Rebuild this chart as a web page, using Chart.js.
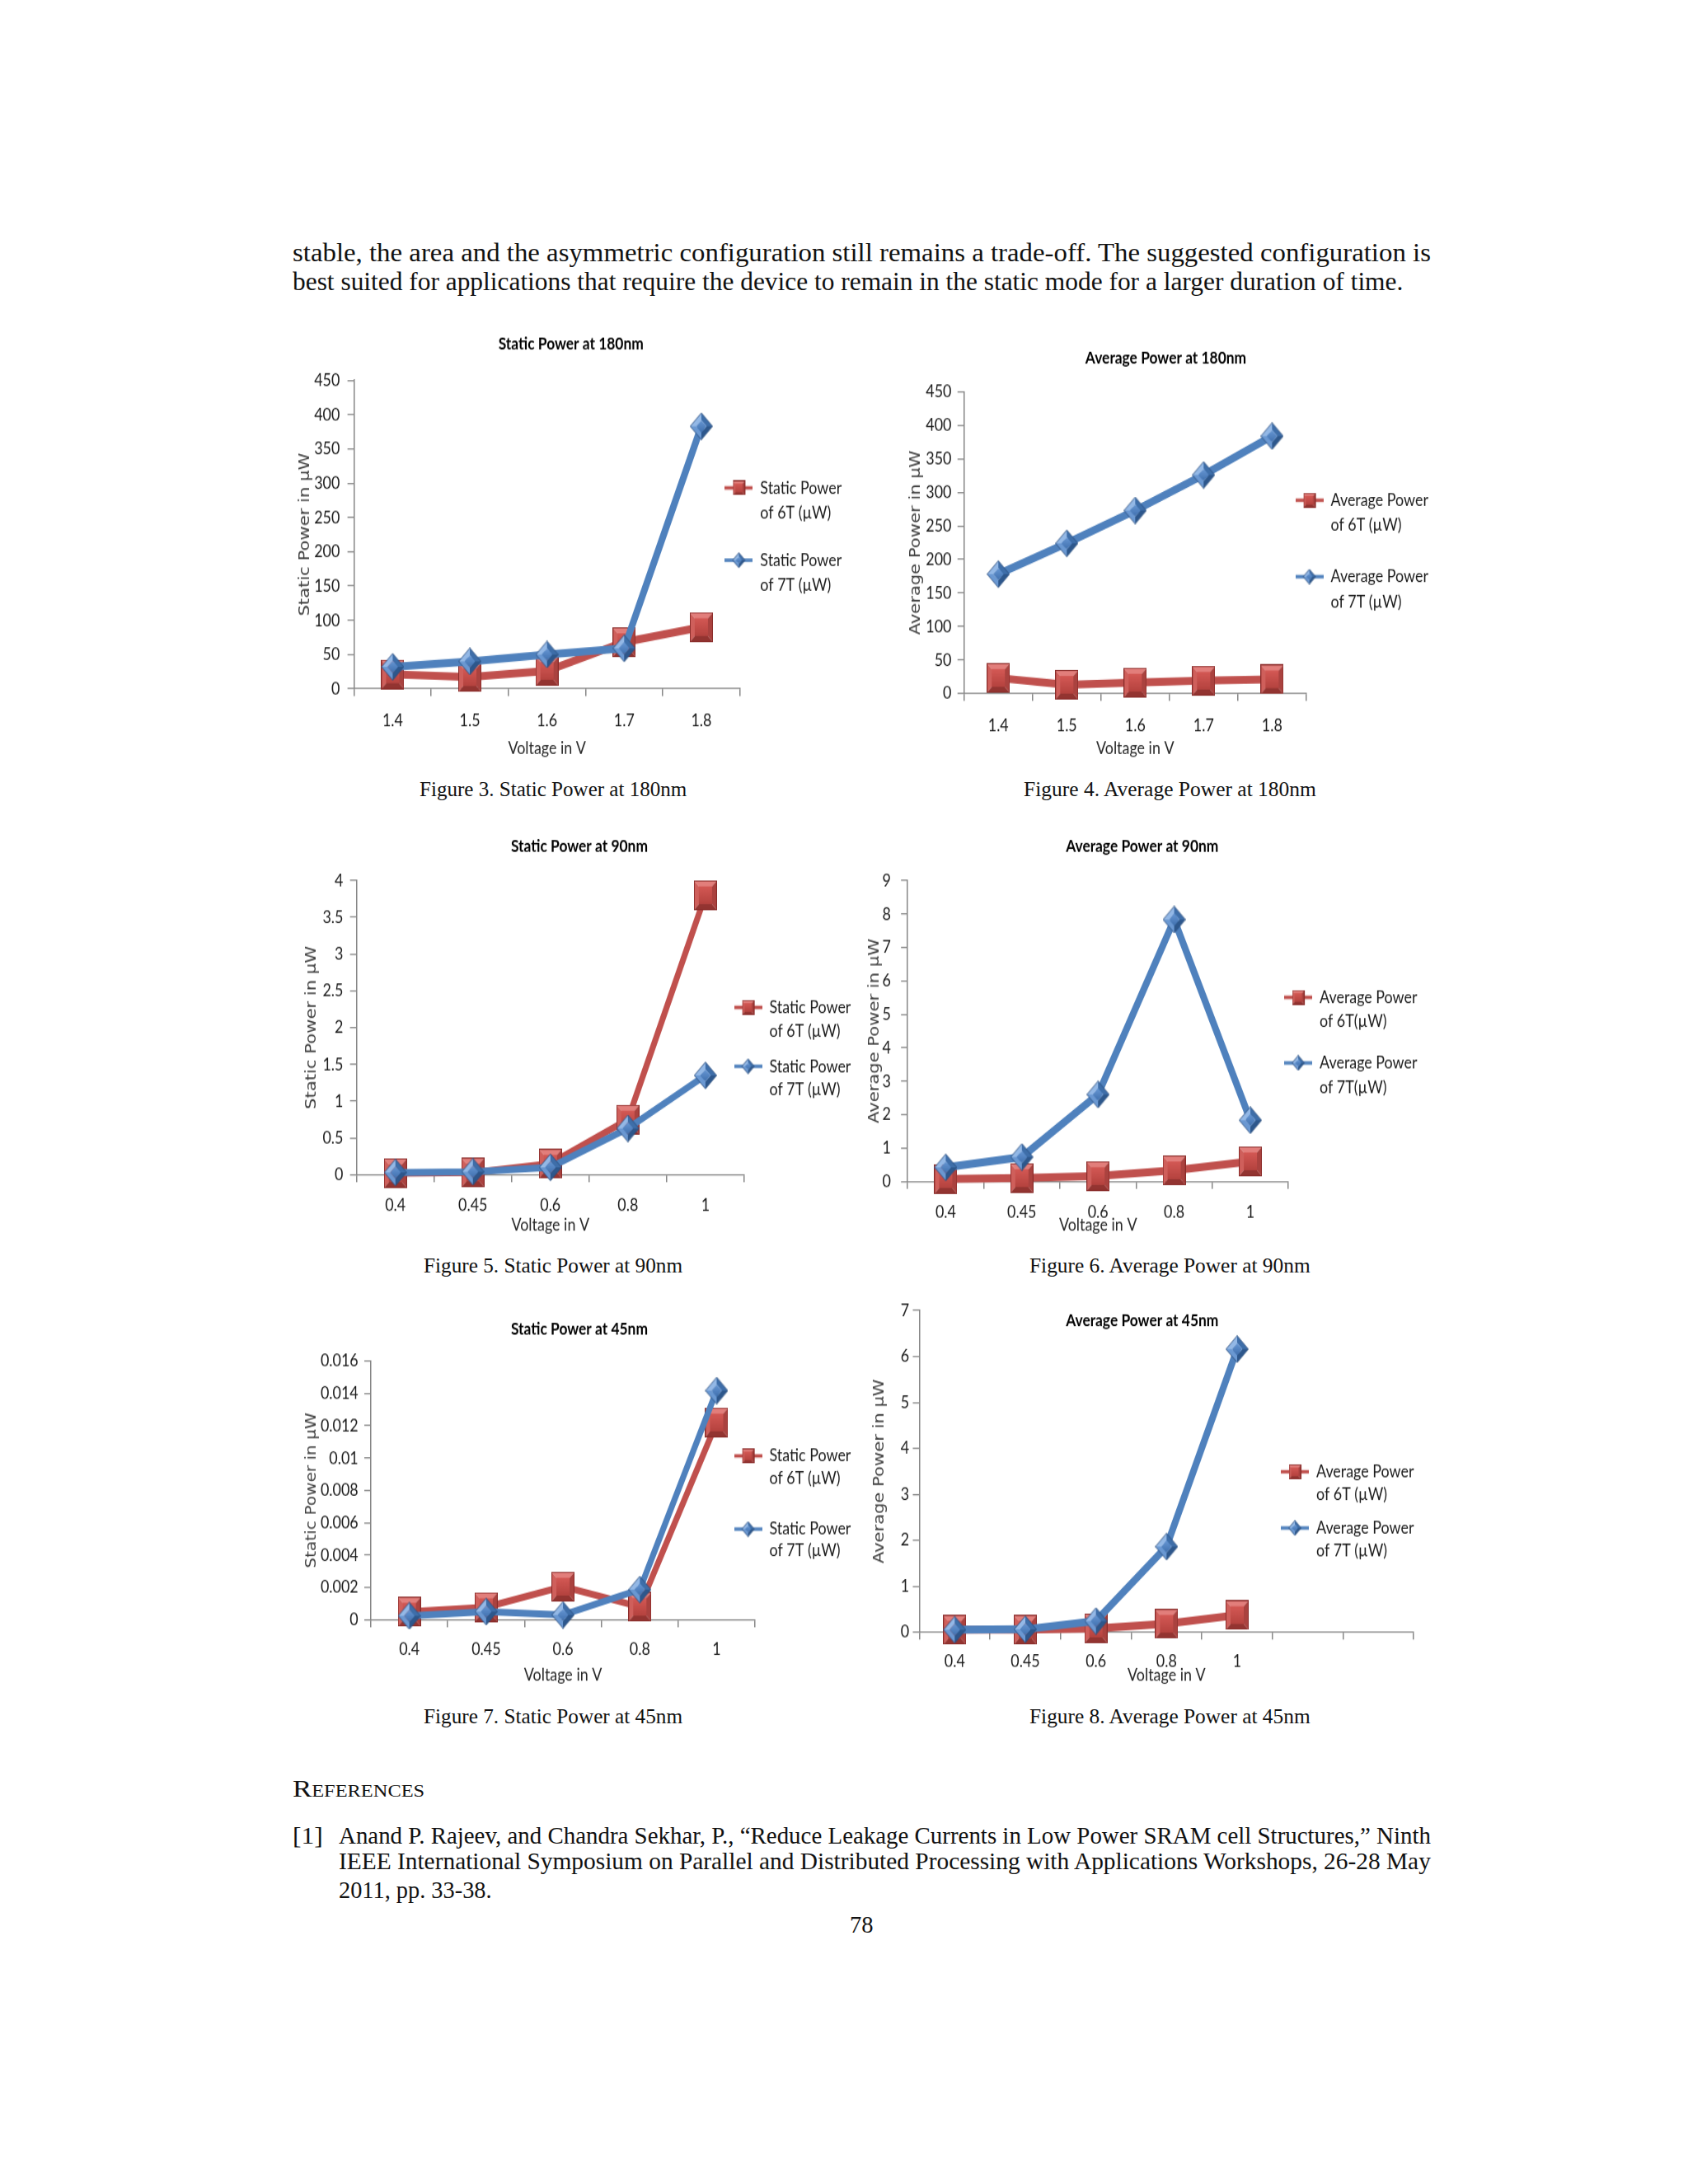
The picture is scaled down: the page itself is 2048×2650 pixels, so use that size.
<!DOCTYPE html>
<html><head><meta charset="utf-8">
<script src="https://cdn.jsdelivr.net/npm/chart.js@4.4.1/dist/chart.umd.min.js"></script>
<style>
html,body{margin:0;padding:0;background:#fff;}
#page{position:relative;width:2048px;height:2650px;background:#fff;overflow:hidden;}
.tx{position:absolute;white-space:nowrap;font-family:'Liberation Serif','Times New Roman',serif;color:#111;transform-origin:0 50%;}
canvas{position:absolute;}
</style></head><body><div id="page"></div>
<script>
// ---------------- data ----------------
const volt180 = ['1.4','1.5','1.6','1.7','1.8'];
const volt90  = ['0.4','0.45','0.6','0.8','1'];
const volt45  = ['0.4','0.45','0.6','0.8','1','',''];

const static180_6T = [21, 17, 26, 68, 90];
const static180_7T = [32, 40, 50, 59, 383];
const avg180_6T    = [23, 13, 16, 19, 21];
const avg180_7T    = [178, 224, 273, 326, 384];
const static90_6T  = [0.02, 0.03, 0.15, 0.75, 3.8];
const static90_7T  = [0.03, 0.04, 0.10, 0.63, 1.35];
const avg90_6T     = [0.07, 0.10, 0.16, 0.33, 0.60];
const avg90_7T     = [0.42, 0.73, 2.60, 7.83, 1.83];
const static45_6T  = [0.0005, 0.00078, 0.00205, 0.0008, 0.0122];
const static45_7T  = [0.00024, 0.0005, 0.0003, 0.00187, 0.01417];
const avg45_6T     = [0.05, 0.05, 0.08, 0.18, 0.37];
const avg45_7T     = [0.05, 0.06, 0.24, 1.86, 6.16];

const names_static = [['Static Power','of 6T (µW)'], ['Static Power','of 7T (µW)']];
const names_avg    = [['Average Power','of 6T (µW)'], ['Average Power','of 7T (µW)']];
const names_avg90  = [['Average Power','of 6T(µW)'], ['Average Power','of 7T(µW)']];

// ---------------- styles ----------------
const S = 1.0199;           // layout unit -> page px
const SANS = "Lato,'Liberation Sans',Arial,sans-serif";
const RED = '#C0504D', BLUE = '#4F81BD', AX = '#868686';
const page = document.getElementById('page');

function poly(g, pts, fill){ g.beginPath(); g.moveTo(pts[0][0],pts[0][1]); for(let k=1;k<pts.length;k++) g.lineTo(pts[k][0],pts[k][1]); g.closePath(); g.fillStyle=fill; g.fill(); }
function bevelSquare(w,h,c){
  const cv=document.createElement('canvas'); cv.width=w; cv.height=h; const g=cv.getContext('2d');
  const i=Math.round(Math.min(w,h)*0.22);
  poly(g,[[0,0],[w,0],[w-i,i],[i,i]],c.top);
  poly(g,[[0,0],[i,i],[i,h-i],[0,h]],c.left);
  poly(g,[[w,0],[w,h],[w-i,h-i],[w-i,i]],c.right);
  poly(g,[[0,h],[i,h-i],[w-i,h-i],[w,h]],c.bottom);
  const gr=g.createLinearGradient(0,i,0,h-i); gr.addColorStop(0,c.c1); gr.addColorStop(1,c.c2);
  g.fillStyle=gr; g.fillRect(i,i,w-2*i,h-2*i);
  g.strokeStyle=c.edge; g.lineWidth=1; g.strokeRect(0.5,0.5,w-1,h-1);
  return cv;
}
function bevelDiamond(w,h,c){
  const cv=document.createElement('canvas'); cv.width=w; cv.height=h; const g=cv.getContext('2d');
  const cx=w/2, cy=h/2, s=0.45;
  const T=[cx,0.5],R=[w-0.5,cy],B=[cx,h-0.5],L=[0.5,cy];
  const t=[cx,cy-cy*s],r=[cx+cx*s,cy],b=[cx,cy+cy*s],l=[cx-cx*s,cy];
  poly(g,[T,R,r,t],c.right); poly(g,[R,B,b,r],c.bottom); poly(g,[B,L,l,b],c.left); poly(g,[L,T,t,l],c.top);
  const gr=g.createLinearGradient(0,t[1],0,b[1]); gr.addColorStop(0,c.c1); gr.addColorStop(1,c.c2);
  poly(g,[t,r,b,l],gr);
  g.beginPath(); g.moveTo(T[0],T[1]); g.lineTo(R[0],R[1]); g.lineTo(B[0],B[1]); g.lineTo(L[0],L[1]); g.closePath();
  g.strokeStyle=c.edge; g.lineWidth=1; g.stroke();
  return cv;
}
const redC  = {top:'#E27E7B',left:'#CF5F5B',right:'#AA423F',bottom:'#933431',c1:'#D45955',c2:'#B5433F',edge:'#8A2C2A'};
const blueC = {top:'#93B8E6',left:'#6A98D2',right:'#3E6EA9',bottom:'#2D578C',c1:'#6797D4',c2:'#4070AE',edge:'#2B4E7E'};
const sqBig = bevelSquare(28,30,redC), diaBig = bevelDiamond(28,28,blueC);
const sqSm = bevelSquare(15,15,redC), diaSm = bevelDiamond(16,16,blueC);
function glyph(marker,color,w){
  const cv=document.createElement('canvas'); cv.width=w; cv.height=Math.max(marker.height,6); const g=cv.getContext('2d');
  g.strokeStyle=color; g.lineWidth=3.5; g.beginPath(); g.moveTo(0,cv.height/2); g.lineTo(w,cv.height/2); g.stroke();
  g.drawImage(marker,(w-marker.width)/2,(cv.height-marker.height)/2);
  return cv;
}
const GW = 34;
const glyphRed = glyph(sqSm,RED,GW), glyphBlue = glyph(diaSm,BLUE,GW);

// plugin moving title/legend to their spots (canvas coords)
const placer = {
  id:'placer',
  afterLayout(chart,args,o){
    const T=chart.titleBlock;
    if(T && o.title){
      const lh=Chart.helpers.toFont(T.options.font).lineHeight;
      const w=T.right-T.left, h=T.bottom-T.top;
      T.left=o.title[0]-w/2; T.right=T.left+w; T.top=o.title[1]-lh/2; T.bottom=T.top+h;
    }
    const L=chart.legend;
    if(L && o.legend){
      const lo=L.options.labels; const fs=Chart.helpers.toFont(lo.font).size;
      const w=L.width;
      L.left=o.legend[0]-lo.padding; L.right=L.left+w;
      L.top=o.legend[1]-fs/2-lo.padding; L.bottom=L.top+2000;
    }
  }
};
const fmt = v => String(parseFloat(Number(v).toFixed(6)));

function makeChart(s){
  const k=s.k;
  const x0=s.x0*S, y0=s.y0*S;
  const W=Math.round((s.x1-s.x0)*S), cH=Math.round((s.y1-s.y0)*S/k);
  const cx = v => v*S - x0, cy = v => (v*S - y0)/k;   // page layout -> canvas coords
  const cv=document.createElement('canvas');
  cv.width=W; cv.height=cH;
  cv.style.left=x0+'px'; cv.style.top=y0+'px'; cv.style.width=W+'px'; cv.style.height=(cH*k)+'px';
  page.appendChild(cv);
  const l=cx(s.area[0]), t=cy(s.area[1]), r=cx(s.area[2]), b=cy(s.area[3]);
  const FS=17.9, TFS=17.4;
  const titleLH=TFS*1.2, tickLH=FS*1.2, ytLH=s.yTitleSize*1.2;
  const xTick=7.5, yTick=8;
  const legLH=s.legLH*S/k, legPad=s.legPad*S/k;
  new Chart(cv,{
    type:'line',
    data:{labels:s.labels,datasets:[
      {label:'6T',legendLines:s.names[0],glyph:glyphRed,data:s.red,borderColor:RED,backgroundColor:RED,borderWidth:s.lw,
       pointStyle:sqBig,pointRadius:12,pointHoverRadius:12,pointBorderWidth:0,tension:0,order:2,clip:false},
      {label:'7T',legendLines:s.names[1],glyph:glyphBlue,data:s.blue,borderColor:BLUE,backgroundColor:BLUE,borderWidth:s.lw,
       pointStyle:diaBig,pointRadius:12,pointHoverRadius:12,pointBorderWidth:0,tension:0,order:1,clip:false}
    ]},
    options:{
      responsive:false,animation:false,
      layout:{padding:{left:0,right:W-r,top:t-titleLH,bottom:0}},
      plugins:{
        title:{display:true,text:s.title,color:'#000',padding:0,font:{family:SANS,size:TFS,weight:'bold',lineHeight:1.2}},
        legend:{display:true,position:'chartArea',align:'start',
          labels:{usePointStyle:true,pointStyleWidth:GW,padding:legPad,color:'#1a1a1a',
            font:{family:SANS,size:FS,lineHeight:legLH/FS},
            generateLabels:ch=>ch.data.datasets.map((d,i)=>({text:d.legendLines,pointStyle:d.glyph,fillStyle:d.borderColor,strokeStyle:d.borderColor,lineWidth:0,hidden:false,datasetIndex:i,fontColor:'#1a1a1a'}))}},
        tooltip:{enabled:false},
        placer:{title:[cx(s.titlePos[0]),cy(s.titlePos[1])],legend:[cx(s.legPos[0]),cy(s.legPos[1])]}
      },
      scales:{
        x:{type:'category',offset:true,
          grid:{display:true,offset:true,drawOnChartArea:false,drawTicks:true,tickLength:xTick,color:AX,lineWidth:1.5},
          border:{display:true,color:AX,width:1.3},
          ticks:{font:{family:SANS,size:FS,lineHeight:1.2},color:'#1a1a1a',padding:cy(s.xLabelY)-b-xTick-tickLH/2,maxRotation:0,autoSkip:false},
          title:{display:true,text:'Voltage in V',color:'#262626',font:{family:SANS,size:FS,lineHeight:1.2},padding:{top:0,bottom:(cH-cy(s.xTitleY))-tickLH/2}},
          afterFit:sc=>{sc.height=cH-b;}
        },
        y:{min:s.yMin,max:s.yMax,
          grid:{display:true,drawOnChartArea:false,drawTicks:true,tickLength:yTick,color:AX,lineWidth:1.3},
          border:{display:true,color:AX,width:1.5},
          ticks:{stepSize:s.yStep,font:{family:SANS,size:FS,lineHeight:1.2},color:'#1a1a1a',padding:(l-cx(s.yLabelRight))-yTick,callback:fmt},
          title:{display:true,text:s.yTitle,color:'#404040',font:{family:"'DejaVu Sans',Verdana,sans-serif",size:s.yTitleSize,lineHeight:1.2},padding:{top:cx(s.yTitleX)-ytLH/2,bottom:0}},
          afterFit:sc=>{sc.width=l;}
        }
      }
    },
    plugins:[placer]
  });
}

const charts = [
  {k:1.2,x0:340,y0:380,x1:1030,y1:910,area:[421,452,880,819],title:'Static Power at 180nm',titlePos:[679,409],
   yTitle:'Static Power in µW',yTitleX:363,yTitleSize:17.6,xTitleY:890,xLabelY:857,yLabelRight:404,
   legPos:[862,580],legLH:30,legPad:26,yMin:0,yMax:450,yStep:50,labels:volt180,names:names_static,
   red:static180_6T,blue:static180_7T,lw:8},
  {k:1.2,x0:1060,y0:390,x1:1760,y1:910,area:[1147,466,1554,825],title:'Average Power at 180nm',titlePos:[1387,426],
   yTitle:'Average Power in µW',yTitleX:1090,yTitleSize:17.6,xTitleY:890,xLabelY:863,yLabelRight:1132,
   legPos:[1541,595],legLH:30,legPad:31,yMin:0,yMax:450,yStep:50,labels:volt180,names:names_avg,
   red:avg180_6T,blue:avg180_7T,lw:8},
  {k:1.2,x0:340,y0:980,x1:1030,y1:1480,area:[424,1047,885,1397],title:'Static Power at 90nm',titlePos:[689,1006],
   yTitle:'Static Power in µW',yTitleX:371,yTitleSize:17.6,xTitleY:1457,xLabelY:1433,yLabelRight:408,
   legPos:[873,1198],legLH:28,legPad:14,yMin:0,yMax:4,yStep:0.5,labels:volt90,names:names_static,
   red:static90_6T,blue:static90_7T,lw:7},
  {k:1.2,x0:1020,y0:980,x1:1760,y1:1480,area:[1080,1047,1533,1405],title:'Average Power at 90nm',titlePos:[1359,1006],
   yTitle:'Average Power in µW',yTitleX:1041,yTitleSize:17.6,xTitleY:1457,xLabelY:1442,yLabelRight:1060,
   legPos:[1528,1186],legLH:29,legPad:20,yMin:0,yMax:9,yStep:1,labels:volt90,names:names_avg90,
   red:avg90_6T,blue:avg90_7T,lw:8},
  {k:1.2,x0:340,y0:1550,x1:1030,y1:2010,area:[441,1619,898,1927],title:'Static Power at 45nm',titlePos:[689,1581],
   yTitle:'Static Power in µW',yTitleX:371,yTitleSize:16.8,xTitleY:1993,xLabelY:1962,yLabelRight:426,
   legPos:[873,1732],legLH:26,legPad:35,yMin:0,yMax:0.016,yStep:0.002,labels:volt90,names:names_static,
   red:static45_6T,blue:static45_7T,lw:7},
  {k:1.2,x0:1020,y0:1500,x1:1760,y1:2010,area:[1094,1559,1682,1942],title:'Average Power at 45nm',titlePos:[1359,1571],
   yTitle:'Average Power in µW',yTitleX:1047,yTitleSize:17.6,xTitleY:1993,xLabelY:1977,yLabelRight:1082,
   legPos:[1524,1751],legLH:27,legPad:13,yMin:0,yMax:7,yStep:1,labels:volt45,names:names_avg,
   red:avg45_6T,blue:avg45_7T,lw:8}
];

// ---------------- page text ----------------
const textLines = [
  ['stable, the area and the asymmetric configuration still remains a trade-off. The suggested configuration is',348,1702,301,30],
  ['best suited for applications that require the device to remain in the static mode for a larger duration of time.',348,1669,336,30],
  ['Figure 3. Static Power at 180nm',499,817,940,25],
  ['Figure 4. Average Power at 180nm',1218,1566,940,25],
  ['Figure 5. Static Power at 90nm',504,812,1506,25],
  ['Figure 6. Average Power at 90nm',1225,1559,1506,25],
  ['Figure 7. Static Power at 45nm',504,812,2043,25],
  ['Figure 8. Average Power at 45nm',1225,1559,2043,25],
  ['References',348,505,2129,28,'sc'],
  ['[1]',348,384,2184,29],
  ['Anand P. Rajeev, and Chandra Sekhar, P., \u201CReduce Leakage Currents in Low Power SRAM cell Structures,\u201D Ninth',403,1702,2184,29],
  ['IEEE International Symposium on Parallel and Distributed Processing with Applications Workshops, 26-28 May',403,1702,2215,29],
  ['2011, pp. 33-38.',403,585,2249,29],
  ['78',1011,1039,2290,29]
];
for(const [txt,a,z,yc,fs,mode] of textLines){
  const d=document.createElement('div'); d.className='tx'; d.textContent=txt;
  const f=fs*S;
  d.style.fontSize=f+'px'; d.style.lineHeight=(f*1.2)+'px';
  d.style.left=(a*S)+'px'; d.style.top=(yc*S-f*0.6)+'px';
  if(mode==='sc') d.style.fontVariant='small-caps';
  page.appendChild(d);
  const nat=d.getBoundingClientRect().width;
  d.style.transform='scaleX('+(((z-a)*S)/nat).toFixed(4)+')';
}
charts.forEach(makeChart);
</script>
</body></html>
